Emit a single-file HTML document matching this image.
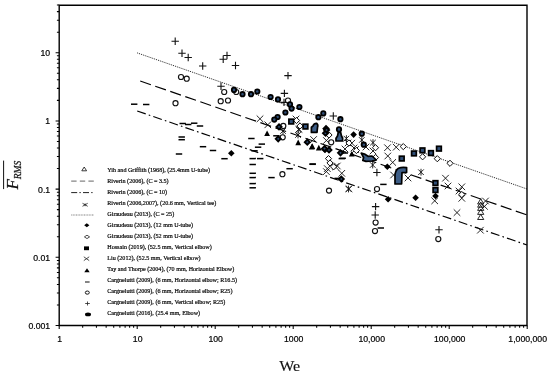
<!DOCTYPE html>
<html><head><meta charset="utf-8"><title>F RMS vs We</title>
<style>html,body{margin:0;padding:0;background:#fff}body{width:550px;height:375px;position:relative;overflow:hidden}</style></head>
<body>
<svg width="550" height="375" viewBox="0 0 550 375" style="position:absolute;left:0;top:0">
<rect width="550" height="375" fill="#fff"/>
<line x1="137.2" y1="52.9" x2="527.0" y2="189.0" stroke="#222" stroke-width="1" stroke-dasharray="1 1"/>
<line x1="140.2" y1="81.0" x2="527.0" y2="215" stroke="#000" stroke-width="1.15" stroke-dasharray="11.3 4.6"/>
<line x1="137.2" y1="111" x2="527.0" y2="245" stroke="#000" stroke-width="1.2" stroke-dasharray="9 3.2 1.6 3.2"/>
<g stroke="#111" stroke-width="0.9" fill="none">
<path d="M171.5 41.2h7.4M175.2 37.5v7.4" stroke-width="1.1"/>
<path d="M178.3 53.2h7.4M182.0 49.5v7.4" stroke-width="1.1"/>
<path d="M184.5 57.5h7.4M188.2 53.8v7.4" stroke-width="1.1"/>
<path d="M199.0 66.0h7.4M202.7 62.3v7.4" stroke-width="1.1"/>
<path d="M219.5 59.2h7.4M223.2 55.5v7.4" stroke-width="1.1"/>
<path d="M223.3 55.5h7.4M227.0 51.8v7.4" stroke-width="1.1"/>
<path d="M231.8 65.5h7.4M235.5 61.8v7.4" stroke-width="1.1"/>
<path d="M217.3 86.2h7.4M221.0 82.5v7.4" stroke-width="1.1"/>
<path d="M284.3 75.6h7.4M288.0 71.9v7.4" stroke-width="1.1"/>
<path d="M280.7 93.4h7.4M284.4 89.7v7.4" stroke-width="1.1"/>
<path d="M280.3 102.4h7.4M284.0 98.7v7.4" stroke-width="1.1"/>
<path d="M329.6 116.0h7.4M333.3 112.3v7.4" stroke-width="1.1"/>
<path d="M373.2 172.5h7.4M376.9 168.8v7.4" stroke-width="1.1"/>
<path d="M371.9 206.6h7.4M375.6 202.9v7.4" stroke-width="1.1"/>
<path d="M371.5 215.0h7.4M375.2 211.3v7.4" stroke-width="1.1"/>
<path d="M435.3 229.7h7.4M439.0 226.0v7.4" stroke-width="1.1"/>
<path d="M256.7 115.5l6.6 6.6M256.7 122.1l6.6 -6.6"/>
<path d="M264.5 121.5l6.6 6.6M264.5 128.1l6.6 -6.6"/>
<path d="M292.7 115.7l6.6 6.6M292.7 122.3l6.6 -6.6"/>
<path d="M295.7 126.0l6.6 6.6M295.7 132.6l6.6 -6.6"/>
<path d="M310.3 136.2l6.6 6.6M310.3 142.8l6.6 -6.6"/>
<path d="M323.1 137.2l6.6 6.6M323.1 143.8l6.6 -6.6"/>
<path d="M332.2 163.5l6.6 6.6M332.2 170.1l6.6 -6.6"/>
<path d="M324.0 165.3l6.6 6.6M324.0 171.9l6.6 -6.6"/>
<path d="M348.5 139.9l6.6 6.6M348.5 146.5l6.6 -6.6"/>
<path d="M352.2 146.2l6.6 6.6M352.2 152.8l6.6 -6.6"/>
<path d="M384.2 144.4l6.6 6.6M384.2 151.0l6.6 -6.6"/>
<path d="M392.9 143.9l6.6 6.6M392.9 150.5l6.6 -6.6"/>
<path d="M384.5 152.7l6.6 6.6M384.5 159.3l6.6 -6.6"/>
<path d="M389.4 159.1l6.6 6.6M389.4 165.7l6.6 -6.6"/>
<path d="M334.0 162.7l6.6 6.6M334.0 169.3l6.6 -6.6"/>
<path d="M323.1 168.3l6.6 6.6M323.1 174.9l6.6 -6.6"/>
<path d="M338.5 170.0l6.6 6.6M338.5 176.6l6.6 -6.6"/>
<path d="M345.7 185.5l6.6 6.6M345.7 192.1l6.6 -6.6"/>
<path d="M390.3 171.7l6.6 6.6M390.3 178.3l6.6 -6.6"/>
<path d="M442.2 174.9l6.6 6.6M442.2 181.5l6.6 -6.6"/>
<path d="M444.7 182.7l6.6 6.6M444.7 189.3l6.6 -6.6"/>
<path d="M458.5 183.5l6.6 6.6M458.5 190.1l6.6 -6.6"/>
<path d="M404.7 174.7l6.6 6.6M404.7 181.3l6.6 -6.6"/>
<path d="M455.7 187.7l6.6 6.6M455.7 194.3l6.6 -6.6"/>
<path d="M458.5 195.0l6.6 6.6M458.5 201.6l6.6 -6.6"/>
<path d="M453.7 209.3l6.6 6.6M453.7 215.9l6.6 -6.6"/>
<path d="M431.4 197.5l6.6 6.6M431.4 204.1l6.6 -6.6"/>
<path d="M482.2 197.7l6.6 6.6M482.2 204.3l6.6 -6.6"/>
<path d="M481.2 203.1l6.6 6.6M481.2 209.7l6.6 -6.6"/>
<path d="M477.1 226.9l6.6 6.6M477.1 233.5l6.6 -6.6"/>
<path d="M344.7 139.7l6.6 6.6M344.7 146.3l6.6 -6.6"/>
<path d="M350.7 144.7l6.6 6.6M350.7 151.3l6.6 -6.6"/>
<path d="M341.7 145.7l6.6 6.6M341.7 152.3l6.6 -6.6"/>
<path d="M369.7 147.7l6.6 6.6M369.7 154.3l6.6 -6.6"/>
<path d="M362.7 143.7l6.6 6.6M362.7 150.3l6.6 -6.6"/>
<path d="M280.2 128.2l5.6 5.6M280.2 133.8l5.6 -5.6M283.0 127.6v6.8"/>
<path d="M359.0 137.2l5.6 5.6M359.0 142.8l5.6 -5.6M361.8 136.6v6.8"/>
<path d="M370.2 139.8l5.6 5.6M370.2 145.4l5.6 -5.6M373.0 139.2v6.8"/>
<path d="M343.6 135.8l5.6 5.6M343.6 141.4l5.6 -5.6M346.4 135.2v6.8"/>
<path d="M369.9 162.2l5.6 5.6M369.9 167.8l5.6 -5.6M372.7 161.6v6.8"/>
<path d="M418.2 169.4l5.6 5.6M418.2 175.0l5.6 -5.6M421.0 168.8v6.8"/>
<path d="M295.9 126.7l5.6 5.6M295.9 132.3l5.6 -5.6M298.7 126.1v6.8"/>
<path d="M345.7 186.2l5.6 5.6M345.7 191.8l5.6 -5.6M348.5 185.6v6.8"/>
<path d="M295.2 132.2l5.6 5.6M295.2 137.8l5.6 -5.6M298.0 131.6v6.8"/>
</g>
<g stroke="#111" stroke-width="1" fill="#fff">
<path d="M293.4 120.5L296.5 117.4L299.6 120.5L296.5 123.6Z"/>
<path d="M325.9 135.0L329.0 131.9L332.1 135.0L329.0 138.1Z"/>
<path d="M325.4 158.6L328.5 155.5L331.6 158.6L328.5 161.7Z"/>
<path d="M326.9 163.0L330.0 159.9L333.1 163.0L330.0 166.1Z"/>
<path d="M330.5 166.8L333.6 163.7L336.7 166.8L333.6 169.9Z"/>
<path d="M400.2 146.6L403.3 143.5L406.4 146.6L403.3 149.7Z"/>
<path d="M372.4 147.7L375.5 144.6L378.6 147.7L375.5 150.8Z"/>
<path d="M419.5 156.8L422.6 153.7L425.7 156.8L422.6 159.9Z"/>
<path d="M353.3 150.5L356.4 147.4L359.5 150.5L356.4 153.6Z"/>
<path d="M434.2 158.7L437.3 155.6L440.4 158.7L437.3 161.8Z"/>
<path d="M446.9 163.3L450.0 160.2L453.1 163.3L450.0 166.4Z"/>
<path d="M458.7 194.5L461.8 191.4L464.9 194.5L461.8 197.6Z"/>
<path d="M372.4 157.5L375.5 154.4L378.6 157.5L375.5 160.6Z"/>
<path d="M345.9 143.0L349.0 139.9L352.1 143.0L349.0 146.1Z"/>
<path d="M296.9 126.0L300.0 122.9L303.1 126.0L300.0 129.1Z"/>
<circle cx="181.0" cy="77.0" r="2.55" stroke-width="1.15"/>
<circle cx="186.7" cy="78.7" r="2.55" stroke-width="1.15"/>
<circle cx="175.5" cy="103.2" r="2.55" stroke-width="1.15"/>
<circle cx="224.2" cy="92.0" r="2.55" stroke-width="1.15"/>
<circle cx="220.7" cy="101.2" r="2.55" stroke-width="1.15"/>
<circle cx="228.0" cy="100.5" r="2.55" stroke-width="1.15"/>
<circle cx="236.2" cy="92.0" r="2.55" stroke-width="1.15"/>
<circle cx="288.0" cy="100.6" r="2.55" stroke-width="1.15"/>
<circle cx="283.3" cy="125.9" r="2.55" stroke-width="1.15"/>
<circle cx="331.2" cy="142.3" r="2.55" stroke-width="1.15"/>
<circle cx="329.0" cy="190.6" r="2.55" stroke-width="1.15"/>
<circle cx="377.0" cy="189.0" r="2.55" stroke-width="1.15"/>
<circle cx="375.6" cy="222.5" r="2.55" stroke-width="1.15"/>
<circle cx="375.0" cy="231.0" r="2.55" stroke-width="1.15"/>
<circle cx="438.3" cy="239.0" r="2.55" stroke-width="1.15"/>
<circle cx="282.4" cy="174.2" r="2.55" stroke-width="1.15"/>
<circle cx="282.7" cy="137.3" r="2.55" stroke-width="1.15"/>
<path d="M477.6 204.0h6.2L480.7 198.8Z" stroke-width="0.9" fill="none"/>
<path d="M477.6 207.2h6.2L480.7 202.0Z" stroke-width="0.9" fill="none"/>
<path d="M477.6 210.4h6.2L480.7 205.2Z" stroke-width="0.9" fill="none"/>
<path d="M477.6 214.4h6.2L480.7 209.2Z" stroke-width="0.9" fill="none"/>
<path d="M477.6 219.5h6.2L480.7 214.3Z" stroke-width="0.9" fill="none"/>
</g>
<g stroke="#000" stroke-width="1.5" stroke-linecap="butt">
<path d="M341.6 153.0h6.4"/>
<path d="M131.0 104.2h6.4"/>
<path d="M143.0 104.5h6.4"/>
<path d="M179.5 123.5h6.4"/>
<path d="M185.0 124.5h6.4"/>
<path d="M191.0 123.2h6.4"/>
<path d="M196.8 126.0h6.4"/>
<path d="M178.5 137.0h6.4"/>
<path d="M178.5 139.7h6.4"/>
<path d="M199.8 146.7h6.4"/>
<path d="M209.8 150.5h6.4"/>
<path d="M175.8 154.0h6.4"/>
<path d="M221.3 158.7h6.4"/>
<path d="M248.2 138.5h6.4"/>
<path d="M258.6 144.1h6.4"/>
<path d="M254.9 147.2h6.4"/>
<path d="M251.3 150.8h6.4"/>
<path d="M249.5 158.6h6.4"/>
<path d="M257.0 158.6h6.4"/>
<path d="M249.5 164.5h6.4"/>
<path d="M249.5 173.3h6.4"/>
<path d="M249.5 177.6h6.4"/>
<path d="M249.5 183.6h6.4"/>
<path d="M249.5 187.8h6.4"/>
<path d="M268.3 177.6h6.4"/>
<path d="M286.4 168.7h6.4"/>
<path d="M309.4 164.3h6.4"/>
<path d="M273.2 135.8h6.4"/>
<path d="M338.6 158.6h6.4"/>
<path d="M339.5 158.3h6.4"/>
<path d="M380.2 184.4h6.4"/>
<path d="M377.6 228.0h6.4"/>
<path d="M309.5 164.0h6.4"/>
<path d="M334.4 178.4h6.4"/>
</g>
<g fill="#000">
<path d="M264.2 136.0h5.8L267.1 130.4Z"/>
<path d="M295.3 145.2h5.8L298.2 139.6Z"/>
<path d="M309.4 148.9h5.8L312.3 143.3Z"/>
<path d="M315.9 150.4h5.8L318.8 144.8Z"/>
<path d="M308.9 149.4h5.8L311.8 143.8Z"/>
<path d="M348.9 156.6h5.8L351.8 151.0Z"/>
<path d="M228.0 153.3L231.3 150.0L234.6 153.3L231.3 156.6Z"/>
<path d="M350.3 134.6L353.6 131.3L356.9 134.6L353.6 137.9Z"/>
<path d="M384.0 166.8L387.3 163.5L390.6 166.8L387.3 170.1Z"/>
<path d="M384.8 199.2L388.1 195.9L391.4 199.2L388.1 202.5Z"/>
<path d="M412.3 197.8L415.6 194.5L418.9 197.8L415.6 201.1Z"/>
<path d="M432.2 196.0L435.5 192.7L438.8 196.0L435.5 199.3Z"/>
</g>
<g fill="#2f4e76" stroke="#000" stroke-width="1.5">
<path d="M338.8 179.0L341.3 176.5L343.8 179.0L341.3 181.5Z" stroke-width="1.9"/>
<path d="M338.0 152.8L340.5 150.3L343.0 152.8L340.5 155.3Z" stroke-width="1.9"/>
<path d="M322.5 149.4L325.0 146.9L327.5 149.4L325.0 151.9Z" stroke-width="1.9"/>
<path d="M276.5 126.8L279.0 124.3L281.5 126.8L279.0 129.3Z" stroke-width="1.9"/>
<path d="M275.7 138.8L278.2 136.3L280.7 138.8L278.2 141.3Z" stroke-width="1.9"/>
<path d="M304.8 142.2L307.3 139.7L309.8 142.2L307.3 144.7Z" stroke-width="1.9"/>
<path d="M323.5 128.6L326.0 126.1L328.5 128.6L326.0 131.1Z" stroke-width="1.9"/>
<path d="M323.0 133.2L325.5 130.7L328.0 133.2L325.5 135.7Z" stroke-width="1.9"/>
<path d="M322.0 148.6L324.5 146.1L327.0 148.6L324.5 151.1Z" stroke-width="1.9"/>
<path d="M326.5 150.0L329.0 147.5L331.5 150.0L329.0 152.5Z" stroke-width="1.9"/>
<path d="M324.1 130.0L326.6 127.5L329.1 130.0L326.6 132.5Z" stroke-width="1.9"/>
<rect x="288.9" y="119.2" width="4.7" height="4.7" stroke-width="1.7"/>
<rect x="303.1" y="124.2" width="4.7" height="4.7" stroke-width="1.7"/>
<rect x="399.4" y="156.2" width="4.7" height="4.7" stroke-width="1.7"/>
<rect x="411.6" y="151.1" width="4.7" height="4.7" stroke-width="1.7"/>
<rect x="420.1" y="148.0" width="4.7" height="4.7" stroke-width="1.7"/>
<rect x="428.6" y="150.7" width="4.7" height="4.7" stroke-width="1.7"/>
<rect x="436.6" y="146.3" width="4.7" height="4.7" stroke-width="1.7"/>
<rect x="433.1" y="180.7" width="4.7" height="4.7" stroke-width="1.7"/>
<rect x="433.1" y="187.7" width="4.7" height="4.7" stroke-width="1.7"/>
<circle cx="234.0" cy="89.9" r="2.2" stroke-width="1.8"/>
<circle cx="242.5" cy="94.2" r="2.2" stroke-width="1.8"/>
<circle cx="251.0" cy="94.2" r="2.2" stroke-width="1.8"/>
<circle cx="257.3" cy="91.5" r="2.2" stroke-width="1.8"/>
<circle cx="270.6" cy="97.0" r="2.2" stroke-width="1.8"/>
<circle cx="278.0" cy="99.4" r="2.2" stroke-width="1.8"/>
<circle cx="290.0" cy="104.4" r="2.2" stroke-width="1.8"/>
<circle cx="291.6" cy="108.6" r="2.2" stroke-width="1.8"/>
<circle cx="285.4" cy="112.5" r="2.2" stroke-width="1.8"/>
<circle cx="299.4" cy="107.0" r="2.2" stroke-width="1.8"/>
<circle cx="277.6" cy="117.0" r="2.2" stroke-width="1.8"/>
<circle cx="274.3" cy="119.6" r="2.2" stroke-width="1.8"/>
<circle cx="318.4" cy="117.2" r="2.2" stroke-width="1.8"/>
<circle cx="323.3" cy="113.4" r="2.2" stroke-width="1.8"/>
<circle cx="340.4" cy="119.2" r="2.2" stroke-width="1.8"/>
<circle cx="339.0" cy="129.4" r="2.2" stroke-width="1.8"/>
<circle cx="361.8" cy="133.7" r="2.2" stroke-width="1.8"/>
<circle cx="363.8" cy="144.7" r="2.2" stroke-width="1.8"/>
</g>
<g fill="#3d5d86" stroke="#000" stroke-width="1.7" stroke-linejoin="round">
<path d="M398.5 168.2Q402 166.8 406.6 167.6L406.6 172.4L402 172.6L401.6 184L395 184L395 175Q395.5 170 398.5 168.2Z"/>
<path d="M338.3 132.3L340.6 132.3L341.5 136L342.6 138L342.6 141L336 141L336 138.2L337.5 136Z"/>
<path d="M361.2 153.2L364.5 154L368 156.3L372 156L376.3 160L372 161L366 161.4L362.8 160.4L363.6 157.5Z"/>
<path d="M311.4 132.4L311.4 127.2L313 126Q314 123.2 316.8 123.4Q318.4 124.6 317.5 127.5L317 132.4Z"/>
</g>
<path d="M59.2 5.2H527.0V325.5H59.2Z" fill="none" stroke="#000" stroke-width="1.4"/>
<path d="M59.20 325.5V329.1 M82.68 325.5V327.8 M96.42 325.5V327.8 M106.16 325.5V327.8 M113.72 325.5V327.8 M119.90 325.5V327.8 M125.12 325.5V327.8 M129.64 325.5V327.8 M133.63 325.5V327.8 M137.20 325.5V329.1 M160.68 325.5V327.8 M174.42 325.5V327.8 M184.16 325.5V327.8 M191.72 325.5V327.8 M197.90 325.5V327.8 M203.12 325.5V327.8 M207.64 325.5V327.8 M211.63 325.5V327.8 M215.20 325.5V329.1 M238.68 325.5V327.8 M252.42 325.5V327.8 M262.16 325.5V327.8 M269.72 325.5V327.8 M275.90 325.5V327.8 M281.12 325.5V327.8 M285.64 325.5V327.8 M289.63 325.5V327.8 M293.20 325.5V329.1 M316.68 325.5V327.8 M330.42 325.5V327.8 M340.16 325.5V327.8 M347.72 325.5V327.8 M353.90 325.5V327.8 M359.12 325.5V327.8 M363.64 325.5V327.8 M367.63 325.5V327.8 M371.20 325.5V329.1 M394.68 325.5V327.8 M408.42 325.5V327.8 M418.16 325.5V327.8 M425.72 325.5V327.8 M431.90 325.5V327.8 M437.12 325.5V327.8 M441.64 325.5V327.8 M445.63 325.5V327.8 M449.20 325.5V329.1 M472.68 325.5V327.8 M486.42 325.5V327.8 M496.16 325.5V327.8 M503.72 325.5V327.8 M509.90 325.5V327.8 M515.12 325.5V327.8 M519.64 325.5V327.8 M523.63 325.5V327.8 M527.20 325.5V329.1 M55.6 325.50H59.2 M56.900000000000006 304.97H59.2 M56.900000000000006 292.96H59.2 M56.900000000000006 284.44H59.2 M56.900000000000006 277.83H59.2 M56.900000000000006 272.43H59.2 M56.900000000000006 267.86H59.2 M56.900000000000006 263.91H59.2 M56.900000000000006 260.42H59.2 M55.6 257.30H59.2 M56.900000000000006 236.77H59.2 M56.900000000000006 224.76H59.2 M56.900000000000006 216.24H59.2 M56.900000000000006 209.63H59.2 M56.900000000000006 204.23H59.2 M56.900000000000006 199.66H59.2 M56.900000000000006 195.71H59.2 M56.900000000000006 192.22H59.2 M55.6 189.10H59.2 M56.900000000000006 168.57H59.2 M56.900000000000006 156.56H59.2 M56.900000000000006 148.04H59.2 M56.900000000000006 141.43H59.2 M56.900000000000006 136.03H59.2 M56.900000000000006 131.46H59.2 M56.900000000000006 127.51H59.2 M56.900000000000006 124.02H59.2 M55.6 120.90H59.2 M56.900000000000006 100.37H59.2 M56.900000000000006 88.36H59.2 M56.900000000000006 79.84H59.2 M56.900000000000006 73.23H59.2 M56.900000000000006 67.83H59.2 M56.900000000000006 63.26H59.2 M56.900000000000006 59.31H59.2 M56.900000000000006 55.82H59.2 M55.6 52.70H59.2 M56.900000000000006 32.17H59.2 M56.900000000000006 20.16H59.2 M56.900000000000006 11.64H59.2 M56.900000000000006 5.03H59.2" stroke="#000" stroke-width="1.05" fill="none"/>
<g font-family="'Liberation Sans', 'DejaVu Sans', sans-serif" font-size="8.7" fill="#000" stroke="#000" stroke-width="0.2">
<text x="59.7" y="342" text-anchor="middle">1</text>
<text x="137.7" y="342" text-anchor="middle">10</text>
<text x="215.7" y="342" text-anchor="middle">100</text>
<text x="293.7" y="342" text-anchor="middle">1000</text>
<text x="371.7" y="342" text-anchor="middle">10,000</text>
<text x="449.7" y="342" text-anchor="middle">100,000</text>
<text x="527.7" y="342" text-anchor="middle">1,000,000</text>
<text x="50.2" y="56.1" text-anchor="end">10</text>
<text x="50.2" y="124.3" text-anchor="end">1</text>
<text x="50.2" y="192.5" text-anchor="end">0.1</text>
<text x="50.2" y="260.7" text-anchor="end">0.01</text>
<text x="50.2" y="328.9" text-anchor="end">0.001</text>
</g>
<text x="279.2" y="371.4" textLength="21" lengthAdjust="spacingAndGlyphs" font-family="'Liberation Serif', serif" font-size="15.5" fill="#111" stroke="#111" stroke-width="0.15">We</text>
<g transform="translate(17.8,189.6) rotate(-90)" font-family="'Liberation Serif', serif" font-style="italic" fill="#111" stroke="#111" stroke-width="0.25"><text x="0" y="0" font-size="17">F<tspan font-size="9.5" dy="3.6">RMS</tspan></text><line x1="0.5" y1="-14.2" x2="29" y2="-14.2" stroke="#111" stroke-width="1"/></g>
<g font-family="'Liberation Serif', serif" font-size="6.1" fill="#111" stroke="#111" stroke-width="0.22">
<text x="107.3" y="172.3">Yih and Griffith (1968), (25.4mm U-tube)</text>
<text x="107.3" y="183.3">Riverin (2006), (C = 3.5)</text>
<text x="107.3" y="194.3">Riverin (2006), (C = 10)</text>
<text x="107.3" y="205.3">Riverin (2006,2007), (20.6 mm, Vertical tee)</text>
<text x="107.3" y="216.3">Giraudeau (2013), (C = 25)</text>
<text x="107.3" y="227.2">Giraudeau (2013), (12 mm U-tube)</text>
<text x="107.3" y="238.2">Giraudeau (2013), (52 mm U-tube)</text>
<text x="107.3" y="249.2">Hossain (2019), (52.5 mm, Vertical elbow)</text>
<text x="107.3" y="260.2">Liu (2012), (52.5 mm, Vertical elbow)</text>
<text x="107.3" y="271.2">Tay and Thorpe (2004), (70 mm, Horizontal Elbow)</text>
<text x="107.3" y="282.2">Cargnelutti (2009), (6 mm, Horizontal elbow; R16.5)</text>
<text x="107.3" y="293.2">Cargnelutti (2009), (6 mm, Horizontal elbow; R25)</text>
<text x="107.3" y="304.2">Cargnelutti (2009), (6 mm, Vertical elbow; R25)</text>
<text x="107.3" y="315.2">Cargnelutti (2016), (25.4 mm, Elbow)</text>
</g>
<path d="M81.8 170.8h4.8L84.2 167.0Z" fill="#fff" stroke="#222" stroke-width="0.9"/>
<path d="M71.2 181.1H94" stroke="#666" stroke-width="1" stroke-dasharray="5.4 3.2" fill="none"/>
<path d="M71.2 192.6H94" stroke="#222" stroke-width="1" stroke-dasharray="6 2.2 1.4 2.2" fill="none"/>
<path d="M82.5 203.3l5.2 3M82.5 206.3l5.2 -3M85.1 203.4v2.8" stroke="#222" stroke-width="0.8" fill="none"/>
<path d="M71.2 215.0H94" stroke="#666" stroke-width="0.8" stroke-dasharray="1 0.6" fill="none"/>
<path d="M84.2 225.2L86.8 223.2L89.4 225.2L86.8 227.2Z" fill="#000"/>
<path d="M84.4 236.9L87.0 235.2L89.6 236.9L87.0 238.6Z" fill="#fff" stroke="#222" stroke-width="0.8"/>
<rect x="84.0" y="246.4" width="5" height="3.8" fill="#000"/>
<path d="M83.8 256.8l5.4 3.8M83.8 260.6l5.4 -3.8" stroke="#222" stroke-width="0.8" fill="none"/>
<path d="M84.3 272.2h5.4L87.0 268.2Z" fill="#000"/>
<path d="M85.0 282.0h4.6" stroke="#222" stroke-width="1.1"/>
<ellipse cx="87.3" cy="292.6" rx="2" ry="1.6" fill="#fff" stroke="#111" stroke-width="1"/>
<path d="M85.2 303.5h4.6M87.5 301.5v4" stroke="#222" stroke-width="0.8" fill="none"/>
<ellipse cx="88.0" cy="314.4" rx="3" ry="1.9" fill="#000"/>
</svg>
</body></html>
